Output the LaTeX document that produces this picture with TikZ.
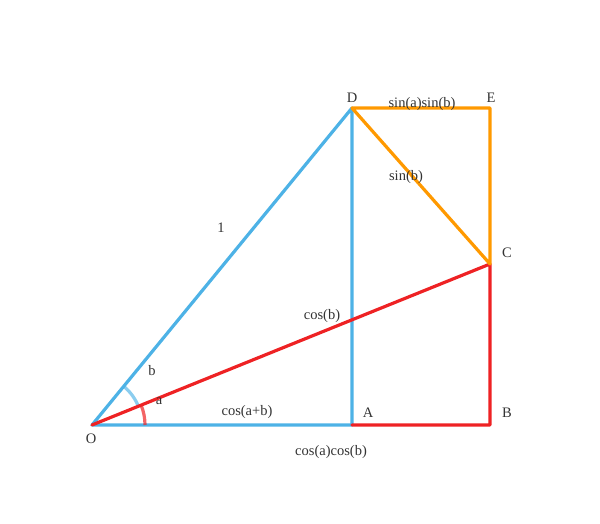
\documentclass[tikz,border=0pt]{standalone}
\usepackage{amsmath}
\usepackage{fontspec}
\setmainfont{Liberation Serif}

\definecolor{skyblue}{RGB}{77,178,230}
\definecolor{lineorange}{RGB}{255,153,0}
\definecolor{linered}{RGB}{238,34,36}
\definecolor{labelgray}{RGB}{51,51,51}

\tikzset{
  side/.style={line width=3.2pt, line cap=round, line join=round},
  lbl/.style={text=labelgray, font=\fontsize{14.5}{17}\selectfont, inner sep=1pt, yshift=-1.5pt},
}

\begin{document}
\begin{tikzpicture}[x=1pt,y=-1pt]
\useasboundingbox (0,0) rectangle (600,524);
% corners
\coordinate (O) at (92,425);
\coordinate (A) at (352,425);
\coordinate (B) at (490,425);
\coordinate (C) at (490,264);
\coordinate (D) at (352,108);
\coordinate (E) at (490,108);
% blue triangle
\draw[side,skyblue] (O) -- (D) -- (A) -- cycle;
% angle arcs
\draw[line width=3.2pt,skyblue,opacity=0.65] (O) ++(-22:50) arc[start angle=-22, end angle=-50.6, radius=50];
\draw[line width=3.2pt,linered,opacity=0.7] (O) ++(0:53) arc[start angle=0, end angle=-22, radius=53];
% red triangle
\draw[side,linered] (O) -- (C) -- (B) -- (A);
% orange triangle
\draw[side,lineorange] (D) -- (E) -- (C) -- cycle;
% labels
\node[lbl] (lO) at (91,437) {O};
\node[lbl] (lA) at (368,411) {A};
\node[lbl] (lB) at (507,411) {B};
\node[lbl] (lC) at (507,251) {C};
\node[lbl] (lD) at (352,96) {D};
\node[lbl] (lE) at (491,96) {E};
\node[lbl] (one) at (221,226) {1};
\node[lbl] (angb) at (152,369) {b};
\node[lbl] (anga) at (159,400) {a};
\node[lbl] (cosab) at (247,411) {cos(a+b)};
\node[lbl] (cosacosb) at (331,451) {cos(a)cos(b)};
\node[lbl] (cosb) at (322,315) {cos(b)};
\node[lbl] (sinb) at (406,176) {sin(b)};
\node[lbl] (sinasinb) at (422,103) {sin(a)sin(b)};
\end{tikzpicture}
\end{document}
